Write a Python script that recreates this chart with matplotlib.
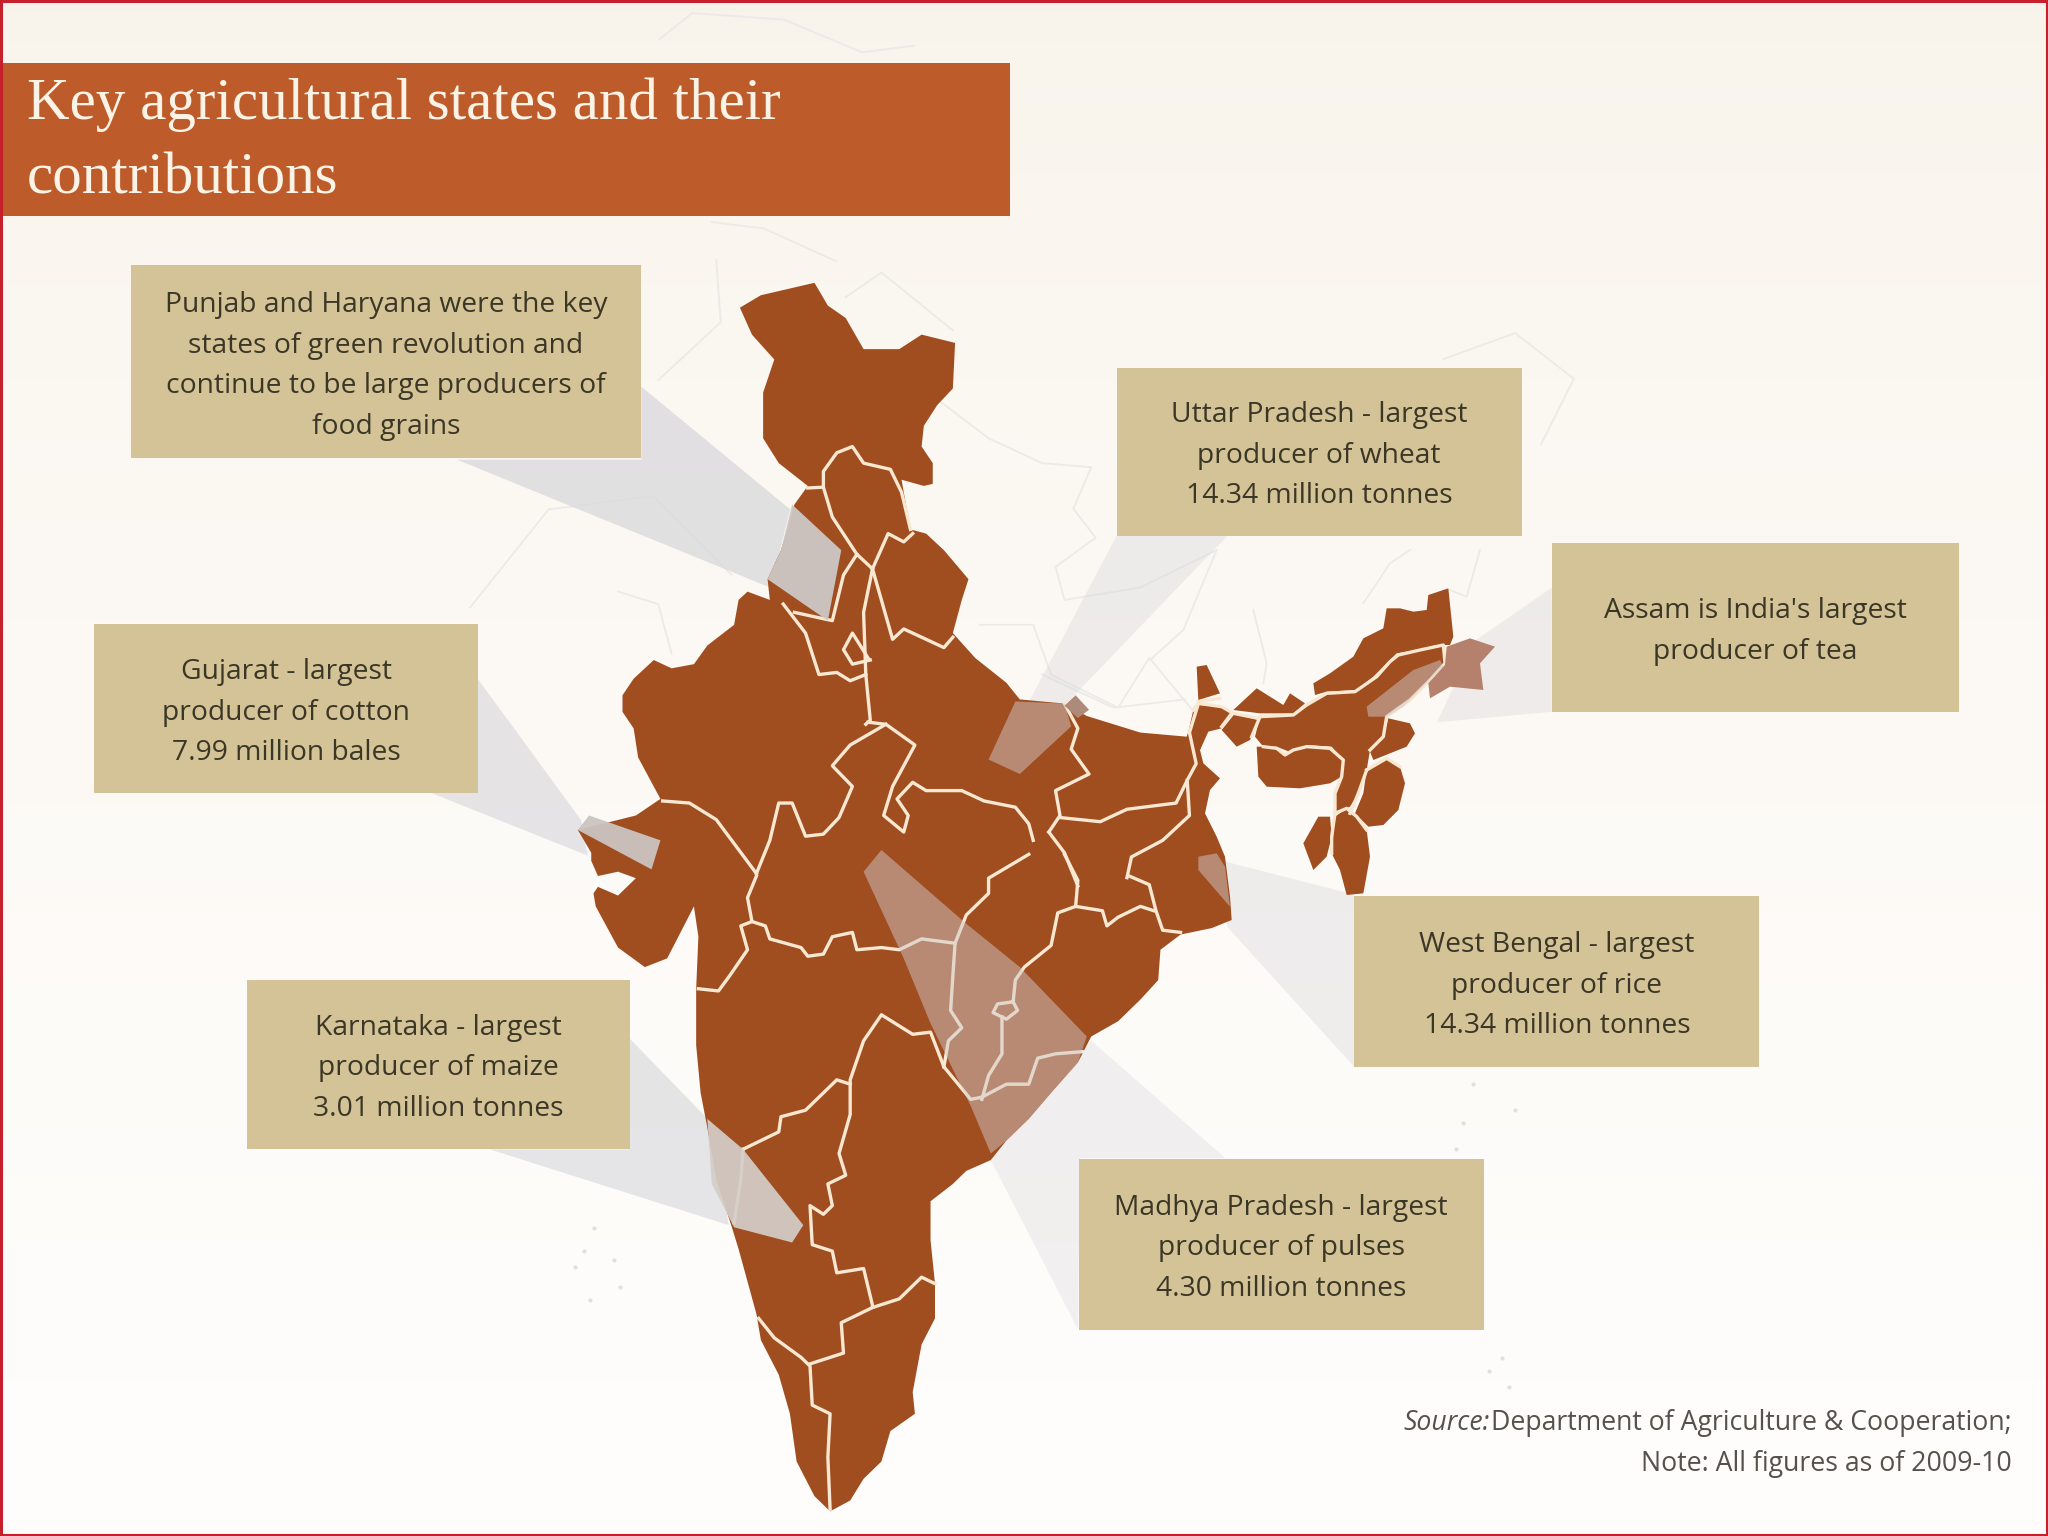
import numpy as np
import matplotlib
matplotlib.use("Agg")
import matplotlib.pyplot as plt
from matplotlib.patches import Polygon, Rectangle

def z1(p): return [(560 + x * 700 / 1568, 260 + y * 650 / 1568) for x, y in p]
def z2(p): return [(560 + x * 700 / 1568, 850 + y * 680 / 1568) for x, y in p]
def z3(p): return [(1150 + x / 3, 550 + y / 3) for x, y in p]
def dp(p): return [(x * 2048 / 1568, y * 1536 / 1176) for x, y in p]

outline_north = [(403,115),(450,85),(530,65),(570,55),(600,110),(640,140),(680,215),(760,215),(810,180),(885,200),
    (880,310),(845,350),(815,400),(810,450),(835,490),(835,540),(815,545),(765,530),(775,590),(785,650),(820,660),
    (860,700),(915,770),(900,820),(880,900),(930,960),(1000,1020),(1030,1060),(1130,1070),(1180,1100),(1240,1120),
    (1300,1140),(1405,1150)]
outline_bengal = [(130,480),(160,470),(175,530),(150,600),(160,640),(210,685),(180,720),(165,790),(200,860),(225,920),
    (240,1040),(245,1110)]
outline_south = [(1460,180),(1390,195),(1345,230),(1340,300),(1300,345),(1250,395),(1190,430),(1160,490),(1100,560),
    (1050,620),(1000,670),(965,715),(910,740),(880,770),(830,810),(830,900),(840,1000),(840,1080),(810,1140),(790,1250),
    (795,1300),(740,1340),(720,1410),(680,1450),(650,1500),(605,1525),(570,1490),(530,1410),(515,1300),(490,1210),
    (450,1130),(440,1070),(400,920),(385,870),(350,760),(330,640),(315,560),(305,450),(305,320),(310,200),(300,130),
    (280,170),(240,250),(190,270),(130,225),(80,130),(75,100),(85,85),(130,105),(170,65),(130,50),(85,60),(70,25)]
outline_west = [(70,1430),(40,1375),(170,1340),(225,1300),(175,1200),(165,1130),(140,1090),(140,1050),(165,1010),
    (210,965),(250,985),(300,975),(330,930),(390,880),(400,820),(420,800),(470,820),(465,770),(495,700),(525,590),
    (555,545),(490,490),(455,430),(455,320),(480,240),(430,180)]

sikkim = [(140,350),(170,345),(210,430),(145,450)]
duars_a = [(250,480),(320,415),(400,465),(420,430),(465,460),(430,490),(330,490)]
duars_b = [(215,540),(255,490),(325,510),(300,570),(260,590)]
duars_c = [(145,465),(215,470),(245,490),(215,535),(175,545),(150,600),(110,560)]
arunachal = [(490,400),(540,370),(610,320),(640,265),(700,235),(710,175),(750,175),(790,185),(830,180),(835,135),
    (895,115),(910,260),(900,285),(860,285),(800,300),(740,310),(700,350),(670,380),(620,420),(530,425),(495,435)]
assam = [(330,500),(430,495),(470,465),(530,430),(615,425),(680,380),(720,335),(745,315),(810,300),(880,285),(885,340),
    (840,390),(780,450),(710,500),(700,560),(660,600),(650,660),(625,730),(600,770),(555,790),(555,730),(575,680),
    (580,630),(545,590),(470,585),(430,610),(380,590),(340,590),(315,560)]
meghalaya = [(320,590),(340,590),(380,595),(405,615),(430,600),(470,590),(540,595),(580,630),(575,680),(540,700),
    (450,715),(350,710),(325,680)]
nagaland = [(715,505),(780,520),(795,550),(770,590),(720,610),(670,630),(660,605),(700,560)]
manipur = [(650,660),(710,625),(750,650),(765,700),(745,780),(700,825),(655,830),(615,790),(640,730)]
mizoram = [(555,800),(590,775),(620,800),(650,840),(660,920),(640,1030),(590,1035),(570,960),(545,910)]
tripura = [(505,800),(540,800),(545,860),(530,920),(490,960),(460,880)]

borders_z1 = [
    [(555,550),(590,548),(590,510),(620,465),(655,450),(680,490),(740,505),(765,560),(785,650)],
    [(590,548),(610,620),(665,710),(700,745)],
    [(700,745),(735,660),(770,680),(790,660)],
    [(700,745),(745,915),(770,890),(860,935),(880,910)],
    [(665,710),(635,760),(610,870),(525,850)],
    [(500,830),(550,900),(580,1000),(620,995),(650,1015),(685,1000)],
    [(690,960),(655,900),(635,940),(655,975),(695,965)],
    [(700,745),(680,850),(685,1000),(695,1110),(685,1120)],
    [(730,1120),(650,1170),(610,1220),(655,1270),(625,1345),(590,1385),(550,1390),(520,1310),(490,1310),(470,1400),(440,1480)],
    [(690,1115),(730,1120),(795,1170),(745,1270),(725,1340),(770,1380),(780,1340),(755,1300),(790,1260),(820,1280),
     (900,1280),(950,1305),(1020,1320),(1050,1360),(1060,1400)],
    [(230,1305),(290,1310),(350,1350),(440,1480)],
    [(1130,1070),(1160,1130),(1145,1180),(1185,1240),(1110,1280),(1120,1340),(1095,1380)],
    [(1120,1345),(1210,1355),(1270,1325),(1380,1310),(1405,1255),(1425,1215),(1410,1140),(1430,1070)],
    [(1405,1255),(1410,1340),(1350,1400),(1280,1440),(1270,1490)],
    [(1095,1380),(1130,1430),(1160,1510)],
]
borders_z2 = [
    [(440,60),(420,110),(430,165),(405,175),(420,230),(380,290),(355,325),(310,320)],
    [(430,165),(460,175),(470,205),(540,225),(555,245),(590,240),(610,200),(655,190),(665,230),(720,225),(760,230),(810,205),(885,215)],
    [(1275,60),(1320,80),(1335,140),(1350,185),(1390,190)],
    [(1130,10),(1160,70),(1155,130)],
    [(1155,130),(1115,145),(1100,220),(1040,270),(1020,300),(1015,350)],
    [(1155,130),(1215,140),(1225,175),(1250,155),(1300,130),(1330,140)],
    [(1050,10),(960,65),(960,100),(910,150),(885,215),(880,290),(875,370),(900,410),(870,440),(860,500)],
    [(1015,350),(980,355),(970,375),(1000,390),(1025,370),(1015,350)],
    [(990,385),(990,470),(960,520),(945,575)],
    [(945,570),(1000,540),(1050,540),(1070,480),(1110,470),(1170,465)],
    [(860,500),(920,575),(945,570)],
    [(860,500),(830,420),(790,425),(720,380),(680,440),(650,530),(650,610),(625,700),(640,750),(600,770),(610,820),
     (590,840),(560,820),(565,910),(610,925),(620,975),(680,965),(700,1050)],
    [(410,690),(490,650),(495,615),(550,600),(620,530),(650,540)],
    [(700,1055),(630,1090),(635,1160),(560,1185)],
    [(700,1055),(760,1035),(810,985),(840,1000)],
    [(445,1080),(480,1125),(540,1170),(560,1190),(565,1280),(605,1300),(600,1400),(605,1520)],
    [(410,690),(405,760),(390,860)],
]
borders_z3 = [
    [(145,455),(210,445)],
    [(650,660),(710,625),(750,650)],
    [(555,790),(590,775),(620,800),(650,840)],
    [(660,600),(700,560),(710,500),(780,450),(840,390),(885,340),(880,285),(810,300),(745,315),(720,335),(680,380),
     (615,425),(530,430),(470,465),(430,495),(330,500),(305,560)],
    [(340,590),(380,595),(405,615),(430,600),(470,590),(540,595),(580,630),(575,680),(555,730),(555,790),(545,860),(545,910)],
    [(650,660),(625,730),(600,790)],
    [(245,490),(215,530)],
    [(130,480),(145,460),(215,470),(250,490),(325,505)],
]
faint_z1 = [
    [(850,340),(960,430),(1080,490),(1190,500),(1150,600),(1200,670),(1110,740),(1130,820),(1300,790),(1470,700)],
    [(130,800),(220,830),(250,950)],
    [(350,0),(360,150),(220,290)],
    [(640,90),(720,30),(880,170)],
    [(940,880),(1060,880),(1100,1000),(1250,1080),(1320,960),(1420,1090)],
    [(1080,1000),(1240,1080),(1400,1060)],
]
faint_z3 = [
    [(200,0),(100,240),(0,330)],
    [(990,0),(950,140),(900,120)],
    [(640,160),(720,40),(780,0)],
    [(310,180),(350,340),(340,400)],
]
faint_dp = [
    [(505,30),(530,10),(600,15),(660,40),(700,35)],
    [(360,465),(420,390),(500,380),(560,440)],
    [(1105,275),(1160,255),(1205,290),(1180,340)],
    [(545,170),(585,175),(640,200)],
]
island_dots_dp = [(447,958),(440,970),(470,965),(452,995),(455,940),(475,985),(1115,880),(1120,860),(1128,830),(1160,850),
                  (1140,1050),(1155,1062),(1150,1040)]

highlight_punjab = z1([(520,590),(630,700),(600,870),(465,770),(495,700)])
highlight_up = z1([(1020,1065),(1130,1070),(1145,1125),(1030,1240),(960,1205)])
highlight_mp = z2([(680,50),(720,0),(910,170),(1030,270),(1180,430),(1160,490),(1100,560),(1050,620),(1000,670),(965,700),(920,590),(830,400),(770,250)])
highlight_guj = z1([(65,1340),(225,1400),(205,1470),(40,1375)])
highlight_kar = z2([(330,620),(410,690),(545,865),(520,905),(390,870),(340,770)])
highlight_wb = z3([(145,920),(200,910),(225,950),(240,1070),(145,960)])
highlight_assam = z3([(650,470),(790,360),(870,330),(880,350),(830,400),(760,470),(710,500),(655,500)])
highlight_tip = z3([(890,290),(960,265),(1035,290),(990,340),(1000,420),(900,410),(840,445),(835,400),(885,345)])
highlight_corner = z1([(1130,1075),(1155,1050),(1185,1085),(1160,1105)])

beam_punjab = dp([(491,296),(605,390),(590,450),(350,352),(491,352)])
beam_up = dp([(855,410),(940,410),(820,535),(760,590)])
beam_assam = dp([(1188,450),(1130,490),(1100,553),(1188,545)])
beam_wb = dp([(920,655),(1037,685),(1037,817),(940,710)])
beam_guj = dp([(366,520),(445,628),(450,655),(330,607)])
beam_kar = dp([(482,795),(545,860),(558,938),(375,880),(482,880)])
beam_mp = z2([(965,715),(1160,1105),(1165,710),(1490,710),(1190,440)])

boxes_dp = [(100,203,491,351),(855,282,1165,410),(1188,416,1500,545),(72,478,366,607),
            (1037,686,1347,817),(189,750,482,880),(826,887,1136,1018)]
box_lines = [
    ["Punjab and Haryana were the key", "states of green revolution and", "continue to be large producers of", "food grains"],
    ["Uttar Pradesh - largest", "producer of wheat", "14.34 million tonnes"],
    ["Assam is India's largest", "producer of tea"],
    ["Gujarat - largest", "producer of cotton", "7.99 million bales"],
    ["West Bengal - largest", "producer of rice", "14.34 million tonnes"],
    ["Karnataka - largest", "producer of maize", "3.01 million tonnes"],
    ["Madhya Pradesh - largest", "producer of pulses", "4.30 million tonnes"],
]
title_lines = ["Key agricultural states and their", "contributions"]
source_line = "Department of Agriculture & Cooperation;"
note_line = "Note: All figures as of 2009-10"

# ---- drawing ----------------------------------------------------------
fig = plt.figure(figsize=(20.48, 15.36), dpi=100)
ax = fig.add_axes([0, 0, 1, 1])
top, bottom = np.array([0.975, 0.955, 0.92]), np.array([1.0, 0.995, 0.99])
grad = np.linspace(0, 1, 256)[:, None, None] ** 0.7
ax.imshow(top + (bottom - top) * grad, extent=(0, 2048, 1536, 0), aspect="auto", zorder=0)
ax.set_xlim(0, 2048); ax.set_ylim(1536, 0); ax.axis("off")

for lines, f in ((faint_z1, z1), (faint_z3, z3), (faint_dp, dp)):
    for ln in lines:
        a = np.array(f(ln)); ax.plot(a[:, 0], a[:, 1], color="#ebeae8", lw=1.3, zorder=1)
dots = np.array(dp(island_dots_dp))
ax.scatter(dots[:, 0], dots[:, 1], s=9, color="#e2e0de", linewidths=0, zorder=1)

for b, al in ((beam_punjab, 0.75), (beam_up, 0.4), (beam_assam, 0.4), (beam_wb, 0.4), (beam_guj, 0.65),
              (beam_kar, 0.65), (beam_mp, 0.35)):
    ax.add_patch(Polygon(b, fc="#d9d8dc", ec="none", alpha=al, zorder=2))

MAP = "#a04d20"
main = z1(outline_north) + z3(outline_bengal) + z2(outline_south) + z1(outline_west)
ax.add_patch(Polygon(main, fc=MAP, ec="none", zorder=3))
for p in (sikkim, duars_a, duars_b, duars_c, arunachal, assam, meghalaya, nagaland, manipur, mizoram, tripura):
    ax.add_patch(Polygon(z3(p), fc=MAP, ec="none", zorder=3))

for lines, f in ((borders_z1, z1), (borders_z2, z2), (borders_z3, z3)):
    for ln in lines:
        a = np.array(f(ln))
        ax.plot(a[:, 0], a[:, 1], color="#f8e8d2", lw=2.4, solid_joinstyle="round", zorder=4)

for poly, col, al in ((highlight_punjab, "#cdc8c6", 0.95), (highlight_up, "#d0c8c8", 0.5), (highlight_mp, "#d0c8c8", 0.5),
                      (highlight_guj, "#cbc4c0", 0.95), (highlight_kar, "#d4cec9", 0.92), (highlight_wb, "#d0c8c8", 0.5),
                      (highlight_assam, "#d0c8c8", 0.5), (highlight_tip, "#b5806c", 1.0), (highlight_corner, "#ad8a7a", 1.0)):
    ax.add_patch(Polygon(poly, fc=col, ec="none", alpha=al, zorder=5))

ax.add_patch(Rectangle((0, 63), 1010, 153, fc="#bd5b2b", ec="none", zorder=6))
for i, t in enumerate(title_lines):
    ax.text(27, 105 + i * 75, t, family="Liberation Serif", fontsize=42.5, color="#fbf3e6", va="center", ha="left", zorder=7)

TXT = "#3b3727"
for (x0, y0, x1, y1), lines in zip(boxes_dp, box_lines):
    (xa, ya), (xb, yb) = dp([(x0, y0), (x1, y1)])
    ax.add_patch(Rectangle((xa, ya), xb - xa, yb - ya, fc="#d4c396", ec="none", zorder=6))
    n = len(lines)
    yc, dy = (ya + yb) / 2 + 4, 40.5
    for i, t in enumerate(lines):
        ax.text((xa + xb) / 2, yc + (i - (n - 1) / 2) * dy, t, family="Open Sans", fontsize=20.3,
                color=TXT, ha="center", va="center", zorder=7)

src = ax.text(2012, 1423, source_line, family="Open Sans", fontsize=19.2, color="#55524c", ha="right", va="center", zorder=7)
ax.text(2012, 1464, note_line, family="Open Sans", fontsize=19.2, color="#55524c", ha="right", va="center", zorder=7)
fig.canvas.draw()
ext = src.get_window_extent().transformed(ax.transData.inverted())
ax.text(ext.x0 - 2, 1423, "Source:", family="Open Sans", style="italic", fontsize=19.2, color="#55524c", ha="right", va="center", zorder=7)

ax.add_patch(Rectangle((1, 1), 2046, 1534, fc="none", ec="#c6202c", lw=2.2, zorder=8))
fig.savefig("out.png", dpi=100)
